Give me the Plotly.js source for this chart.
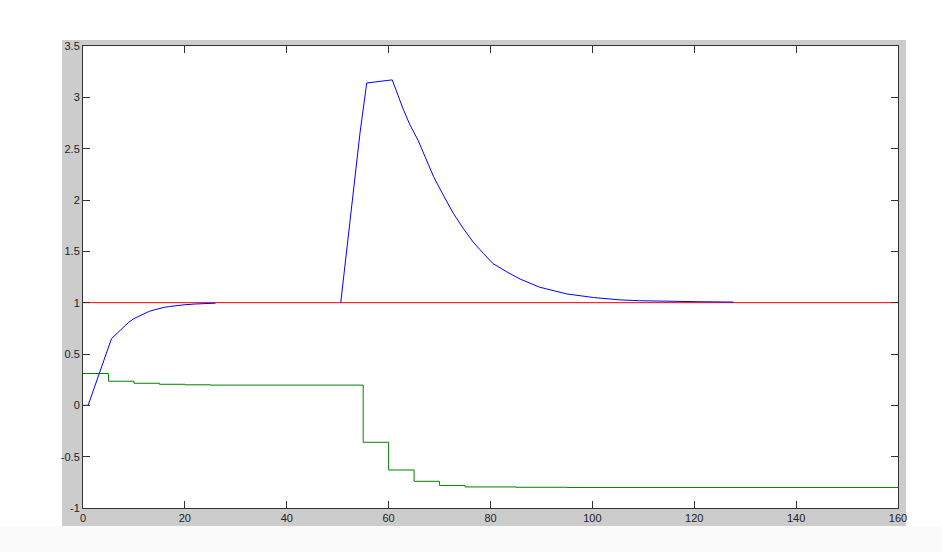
<!DOCTYPE html>
<html>
<head>
<meta charset="utf-8">
<script src="https://cdn.plot.ly/plotly-3.1.0.min.js"></script>
<style>
  html, body { margin: 0; padding: 0; background: #fff; }
  #plot { width: 942px; height: 552px; }
</style>
</head>
<body>
<div id="plot"></div>
<script>
// reference level
const redT = [0, 160];
const redY = [1, 1];

// first response (step at t=0)
const blueT1 = [0, 1, 5.6, 7, 8, 9, 10, 11, 12, 13, 14, 15, 16, 17, 18, 20, 22, 24, 26];
const blueY1 = [0, 0, 0.65, 0.72, 0.77, 0.81, 0.845, 0.87, 0.895, 0.915, 0.93, 0.945, 0.955, 0.963, 0.97, 0.98, 0.987, 0.992, 0.995];

// second response (disturbance around t=50)
const blueT2 = [50.6, 53.1, 54.4, 55.7, 60.7, 62.9, 64.2, 65.8, 67.5, 68.8, 70.7, 72.7, 74.7, 76.6, 78.6, 80.5, 83.2, 85.8, 89.7, 95, 100.2, 105.4, 109.3, 114.6, 121.1, 127.7];
const blueY2 = [1.0, 2.06, 2.66, 3.14, 3.17, 2.88, 2.73, 2.58, 2.39, 2.23, 2.05, 1.87, 1.72, 1.59, 1.48, 1.38, 1.30, 1.23, 1.15, 1.085, 1.05, 1.027, 1.019, 1.013, 1.009, 1.006];

// control signal, held every 5 s
const greenT = [0, 5, 10, 15, 20, 25, 55, 60, 65, 70, 75, 85, 95, 160];
const greenY = [0.31, 0.235, 0.215, 0.205, 0.2, 0.197, -0.36, -0.63, -0.74, -0.78, -0.795, -0.798, -0.8, -0.8];

// tick labels (matlab style hyphen minus)
const xTicks = [0, 20, 40, 60, 80, 100, 120, 140, 160];
const xTickText = ["0", "20", "40", "60", "80", "100", "120", "140", "160"];
const yTicks = [-1, -0.5, 0, 0.5, 1, 1.5, 2, 2.5, 3, 3.5];
const yTickText = ["-1", "-0.5", "0", "0.5", "1", "1.5", "2", "2.5", "3", "3.5"];

const traces = [
  { x: redT, y: redY, type: "scatter", mode: "lines", line: { color: "#ff0000", width: 1 } },
  { x: greenT, y: greenY, type: "scatter", mode: "lines", line: { color: "#008000", width: 1, shape: "hv" } },
  { x: blueT1, y: blueY1, type: "scatter", mode: "lines", line: { color: "#0000ff", width: 1 } },
  { x: blueT2, y: blueY2, type: "scatter", mode: "lines", line: { color: "#0000ff", width: 1 } }
];

const axisCommon = {
  showgrid: false,
  zeroline: false,
  showline: true,
  linecolor: "#333333",
  linewidth: 1,
  mirror: "ticks",
  ticks: "inside",
  ticklen: 7,
  tickcolor: "#333333",
  tickwidth: 1,
  tickfont: { family: "Liberation Sans, Arial, sans-serif", size: 11, color: "#222222" },
  fixedrange: true
};

const layout = {
  width: 942,
  height: 552,
  margin: { l: 83, r: 44, t: 46, b: 44 },
  paper_bgcolor: "#ffffff",
  plot_bgcolor: "#ffffff",
  showlegend: false,
  xaxis: Object.assign({}, axisCommon, {
    range: [0, 160],
    tickmode: "array",
    tickvals: xTicks,
    ticktext: xTickText
  }),
  yaxis: Object.assign({}, axisCommon, {
    range: [-1, 3.5],
    tickmode: "array",
    tickvals: yTicks,
    ticktext: yTickText
  }),
  shapes: [
    // off-white strip at the bottom of the window
    { type: "rect", xref: "paper", yref: "paper", layer: "below",
      x0: -83 / 815, x1: 859 / 815, y0: -44 / 462, y1: -18 / 462,
      fillcolor: "#fafafa", line: { width: 0 } },
    // grey figure frame
    { type: "rect", xref: "paper", yref: "paper", layer: "below",
      x0: -21 / 815, x1: 823 / 815, y0: -18 / 462, y1: 468 / 462,
      fillcolor: "#cccccc", line: { width: 0 } },
    // white axes area
    { type: "rect", xref: "paper", yref: "paper", layer: "below",
      x0: 0, x1: 1, y0: 0, y1: 1,
      fillcolor: "#ffffff", line: { width: 0 } }
  ]
};

Plotly.newPlot("plot", traces, layout, { displayModeBar: false, staticPlot: true });
</script>
</body>
</html>
